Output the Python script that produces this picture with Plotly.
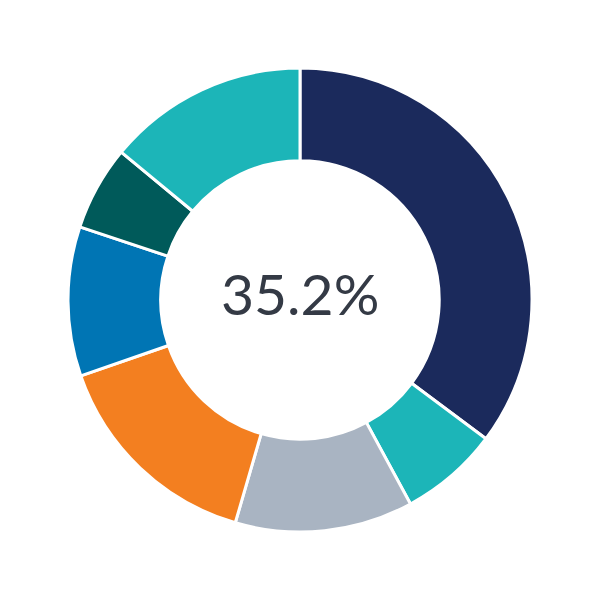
import plotly.graph_objects as go

# Slice data (clockwise from 12 o'clock)
labels = ["A", "B", "C", "D", "E", "F", "G"]
values = [35.2, 6.9, 12.4, 15.2, 10.4, 5.9, 14.0]
colors = ["#1b2a5c", "#1cb5b8", "#a9b4c2", "#f37f20", "#0075b4", "#005a5a", "#1cb5b8"]
center_text = "35.2%"

fig = go.Figure(data=[go.Pie(
    labels=labels,
    values=values,
    hole=0.6,
    sort=False,
    direction="clockwise",
    rotation=0,
    textinfo="none",
    hoverinfo="label+percent",
    marker=dict(colors=colors, line=dict(color="white", width=3)),
)])

fig.add_annotation(
    text=center_text, x=0.5, y=0.5, xref="paper", yref="paper",
    showarrow=False, yshift=7,
    font=dict(family="Lato", size=57, color="#343a45"),
)

# page body has an 8px margin, so offset the plot area to keep it centred
fig.update_layout(
    width=600, height=600,
    margin=dict(l=60, r=76, t=60, b=76),
    showlegend=False,
    paper_bgcolor="white",
    plot_bgcolor="white",
)

fig.write_html("out.html")
